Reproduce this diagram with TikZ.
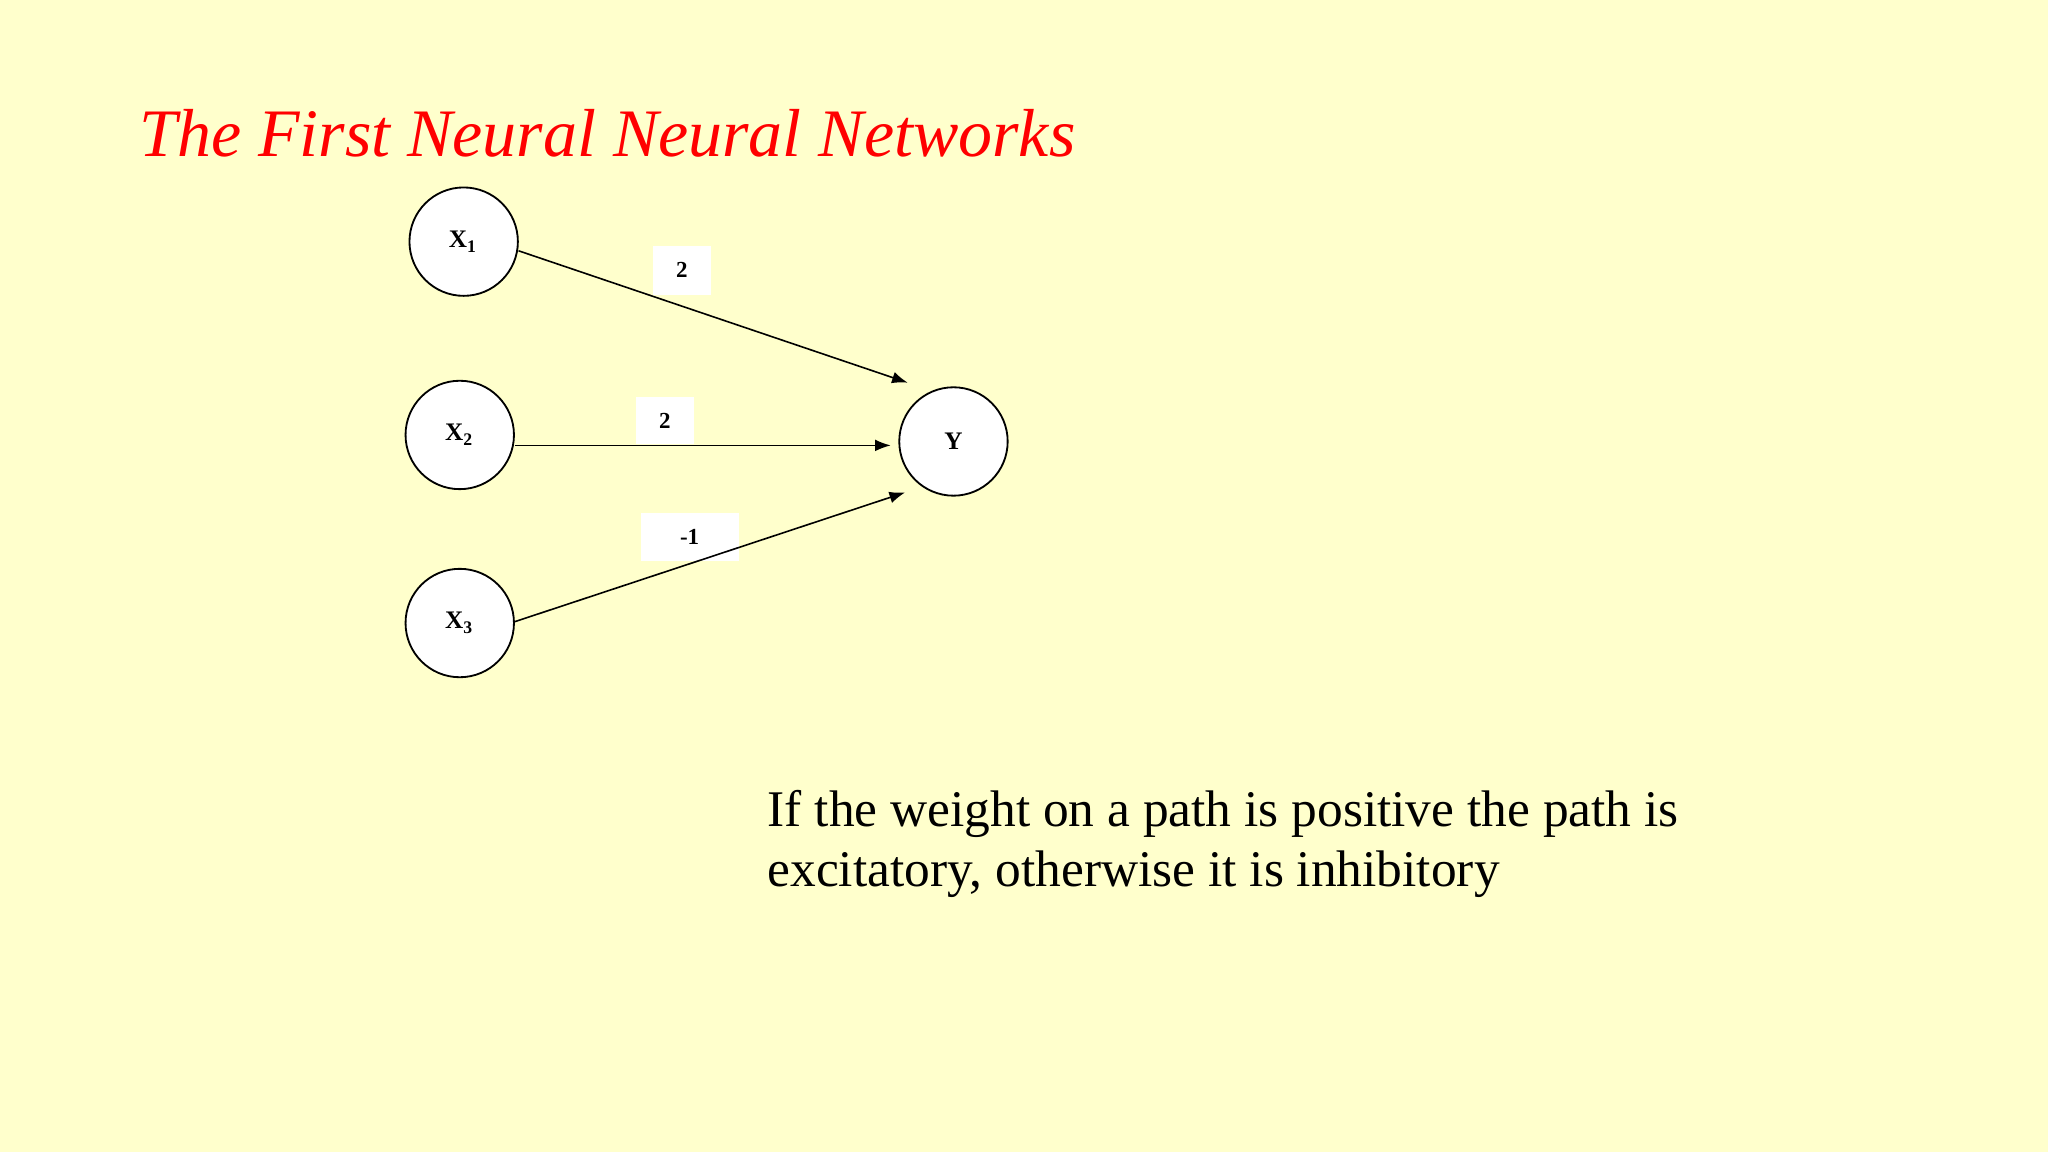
\documentclass[tikz,border=0pt]{standalone}
\usepackage{fontspec}
\setmainfont{Liberation Serif}
\usetikzlibrary{arrows.meta}
\definecolor{bg}{HTML}{FFFFCC}
\begin{document}
\begin{tikzpicture}[x=0.1mm,y=-0.1mm,
  neuron/.style={circle,draw,fill=white,minimum size=8.3mm,inner sep=0pt,font=\fontsize{5.5}{6}\selectfont\bfseries},
  wlabel/.style={fill=white,inner sep=0pt,font=\fontsize{5}{6}\selectfont\bfseries},
  link/.style={-{Latex[length=1.2mm,width=0.9mm]},line width=0.35pt}]
  % background
  \fill[bg] (0,0) rectangle (1568,882);
  \useasboundingbox (0,0) rectangle (1568,882);
  % title
  \node[anchor=base west,text=red,font=\fontsize{14.8}{18}\selectfont\itshape,inner sep=0pt]
    (title) at (106,120) {The First Neural Neural Networks};
  % neurons
  \node[neuron] (x1) at (355,185) {X\textsubscript{1}};
  \node[neuron] (x2) at (352,333) {X\textsubscript{2}};
  \node[neuron] (x3) at (352,477) {X\textsubscript{3}};
  \node[neuron] (y)  at (730,338) {Y};
  % weight boxes
  \node[wlabel,minimum width=4.4mm,minimum height=3.8mm] (w1) at (522,207) {2};
  \node[wlabel,minimum width=4.4mm,minimum height=3.6mm] (w2) at (509,322) {2};
  \node[wlabel,minimum width=7.5mm,minimum height=3.7mm] (w3) at (528,411) {-1};
  % arrow ends
  \coordinate (s1) at (397,192);
  \coordinate (e1) at (695,293);
  \coordinate (s2) at (394,341);
  \coordinate (e2) at (682,341);
  \coordinate (s3) at (394,476);
  \coordinate (e3) at (693,377);
  % connections
  \draw[link] (s1) -- (e1);
  \draw[link] (s2) -- (e2);
  \draw[link] (s3) -- (e3);
  % note
  \node[anchor=base west,align=left,inner sep=0pt,font=\fontsize{11.2}{13.1}\selectfont]
    (note) at (587,679) {If the weight on a path is positive the path is\\excitatory, otherwise it is inhibitory};
\end{tikzpicture}
\end{document}
